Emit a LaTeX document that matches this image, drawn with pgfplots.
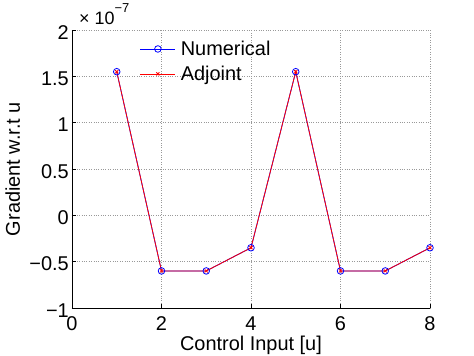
\documentclass[border=0pt]{standalone}
\usepackage{fontspec}
\setmainfont{Liberation Sans}
\usepackage{pgfplots}
\pgfplotsset{compat=1.18}
\begin{document}
\begin{tikzpicture}
\useasboundingbox (-72bp,-48bp) rectangle (402bp,308bp);
\begin{axis}[
  at={(0,0)}, anchor=south west,
  scale only axis, width=358bp, height=278bp,
  xmin=0, xmax=8, ymin=-1, ymax=2,
  xtick={0,2,4,6,8},
  ytick={-1,-0.5,0,0.5,1,1.5,2},
  yticklabels={−1,−0.5,0,0.5,1,1.5,2},
  axis lines*=left,
  axis line style={line width=1pt},
  tick align=inside,
  major tick length=4bp,
  tick style={black, line width=0.8pt},
  grid=major,
  grid style={dotted, gray!80, line width=0.8pt},
  font=\fontsize{20}{24}\selectfont,
  ticklabel style={font=\fontsize{20}{24}\selectfont},
  yticklabel style={anchor=base east, inner sep=0pt, xshift=-3bp, yshift=-9bp},
  xticklabel style={anchor=base, inner sep=0pt, yshift=-22bp},
  /pgf/number format/assume math mode=true,
  xlabel={Control Input [u]},
  ylabel={Gradient w.r.t u},
  xlabel style={font=\fontsize{20}{24}\selectfont, at={([yshift=-42bp]axis description cs:0.5,0)}, anchor=base, inner sep=0pt},
  ylabel style={font=\fontsize{20}{24}\selectfont, at={([xshift=-52bp]axis description cs:0,0.5)}, anchor=base, inner sep=0pt},
  legend style={draw=none, fill=none, inner sep=0pt, outer sep=0pt,
    at={([xshift=68bp,yshift=-11bp]axis description cs:0,1)}, anchor=north west,
    font=\fontsize{20}{24}\selectfont, row sep=9bp,
    nodes={inner sep=0pt},
    /tikz/every odd column/.append style={column sep=5bp}},
  legend image code/.code={
    \draw[#1] (0bp,0bp) -- (35bp,0bp);
    \draw[#1, mark repeat=2, mark phase=2] plot coordinates {(0bp,0bp) (17.5bp,0bp) (35bp,0bp)};
  },
  legend cell align=left,
  clip=false,
]
\addplot[blue, line width=0.8pt, mark=o, mark size=3.3bp, mark options={line width=0.8pt}] coordinates {
(1,1.55) (2,-0.6) (3,-0.6) (4,-0.35) (5,1.55) (6,-0.6) (7,-0.6) (8,-0.35)};
\addlegendentry{Numerical}
\addplot[red, line width=0.8pt, mark=x, mark size=2.2bp, mark options={line width=0.8pt}] coordinates {
(1,1.55) (2,-0.6) (3,-0.6) (4,-0.35) (5,1.55) (6,-0.6) (7,-0.6) (8,-0.35)};
\addlegendentry{Adjoint}
\end{axis}
\node[anchor=base west, inner sep=0pt] at (7bp,283bp) {\fontsize{18}{21}\selectfont × 10\raisebox{12bp}{\fontsize{13}{15}\selectfont −7}};
\end{tikzpicture}
\end{document}
